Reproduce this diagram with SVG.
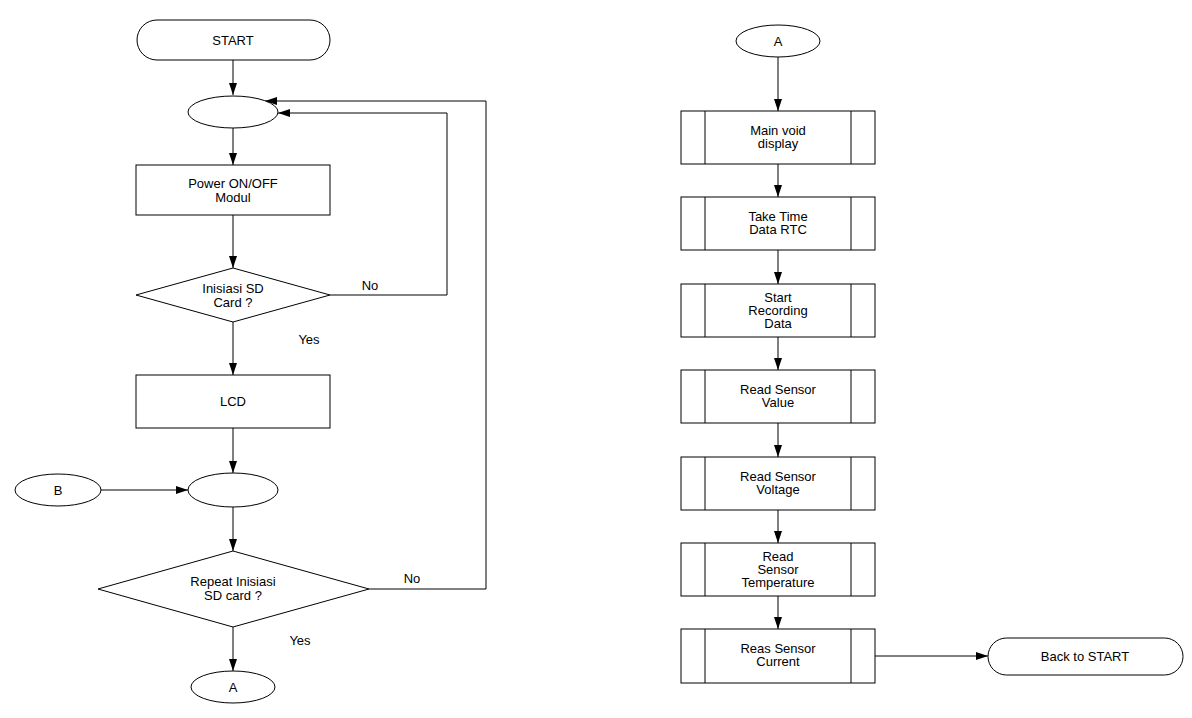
<svg xmlns="http://www.w3.org/2000/svg" width="1192" height="718" viewBox="0 0 1192 718">
<style>
.s{fill:#fff;stroke:#000;stroke-width:1}
.l{fill:none;stroke:#000;stroke-width:1}
text{font-family:"Liberation Sans",Arial,sans-serif;font-size:13px;fill:#000;text-anchor:middle}
</style>
<defs><marker id="a" markerWidth="12" markerHeight="8" refX="12" refY="4" orient="auto" markerUnits="userSpaceOnUse"><path d="M0,0L12,4L0,8z" fill="#000"/></marker></defs>
<rect width="1192" height="718" fill="#fff"/>
<g id="connectors">
<path class="l" d="M233,60V95" marker-end="url(#a)"/>
<path class="l" d="M233,128V165" marker-end="url(#a)"/>
<path class="l" d="M233,215V268" marker-end="url(#a)"/>
<path class="l" d="M330,295H447V113H278" marker-end="url(#a)"/>
<path class="l" d="M233,322V375" marker-end="url(#a)"/>
<path class="l" d="M233,428V473" marker-end="url(#a)"/>
<path class="l" d="M101,490H188" marker-end="url(#a)"/>
<path class="l" d="M233,507V551" marker-end="url(#a)"/>
<path class="l" d="M369,589H486V101H265" marker-end="url(#a)"/>
<path class="l" d="M233,627V671" marker-end="url(#a)"/>
<path class="l" d="M778,57V111" marker-end="url(#a)"/>
<path class="l" d="M778,164V197" marker-end="url(#a)"/>
<path class="l" d="M778,250V284" marker-end="url(#a)"/>
<path class="l" d="M778,337V370" marker-end="url(#a)"/>
<path class="l" d="M778,423V457" marker-end="url(#a)"/>
<path class="l" d="M778,510V543" marker-end="url(#a)"/>
<path class="l" d="M778,596V629" marker-end="url(#a)"/>
<path class="l" d="M875,656H988" marker-end="url(#a)"/>
<text x="370" y="290">No</text><text x="309" y="344">Yes</text>
<text x="412" y="583">No</text><text x="300" y="645">Yes</text>
</g>
<g id="start"><rect class="s" x="137" y="20" width="193" height="40" rx="20"/><text x="233" y="45">START</text></g>
<g id="j1"><ellipse class="s" cx="233" cy="112" rx="45" ry="16"/></g>
<g id="power"><rect class="s" x="136" y="165" width="194" height="50"/><text x="233" y="188">Power ON/OFF</text><text x="233" y="202">Modul</text></g>
<g id="d1"><path class="s" d="M233,268L330,295L233,322L136,295z"/><text x="233" y="293">Inisiasi SD</text><text x="233" y="307">Card ?</text></g>
<g id="lcd"><rect class="s" x="136" y="375" width="194" height="53"/><text x="233" y="406">LCD</text></g>
<g id="b"><ellipse class="s" cx="58" cy="490" rx="43" ry="16"/><text x="58" y="495">B</text></g>
<g id="j2"><ellipse class="s" cx="233" cy="490" rx="45" ry="17"/></g>
<g id="d2"><path class="s" d="M233,551L369,589L233,627L98,589z"/><text x="233" y="586">Repeat Inisiasi</text><text x="233" y="600">SD card ?</text></g>
<g id="a1"><ellipse class="s" cx="233" cy="687" rx="42" ry="16"/><text x="233" y="692">A</text></g>
<g id="a2"><ellipse class="s" cx="778" cy="41" rx="42" ry="16"/><text x="778" y="46">A</text></g>
<g id="p1"><rect class="s" x="681" y="111" width="194" height="53"/><path class="l" d="M705,111V164M851,111V164"/><text x="778" y="135">Main void</text><text x="778" y="148">display</text></g>
<g id="p2"><rect class="s" x="681" y="197" width="194" height="53"/><path class="l" d="M705,197V250M851,197V250"/><text x="778" y="221">Take Time</text><text x="778" y="234">Data RTC</text></g>
<g id="p3"><rect class="s" x="681" y="284" width="194" height="53"/><path class="l" d="M705,284V337M851,284V337"/><text x="778" y="302">Start</text><text x="778" y="315">Recording</text><text x="778" y="328">Data</text></g>
<g id="p4"><rect class="s" x="681" y="370" width="194" height="53"/><path class="l" d="M705,370V423M851,370V423"/><text x="778" y="394">Read Sensor</text><text x="778" y="407">Value</text></g>
<g id="p5"><rect class="s" x="681" y="457" width="194" height="53"/><path class="l" d="M705,457V510M851,457V510"/><text x="778" y="481">Read Sensor</text><text x="778" y="494">Voltage</text></g>
<g id="p6"><rect class="s" x="681" y="543" width="194" height="53"/><path class="l" d="M705,543V596M851,543V596"/><text x="778" y="561">Read</text><text x="778" y="574">Sensor</text><text x="778" y="587">Temperature</text></g>
<g id="p7"><rect class="s" x="681" y="629" width="194" height="54"/><path class="l" d="M705,629V683M851,629V683"/><text x="778" y="653">Reas Sensor</text><text x="778" y="666">Current</text></g>
<g id="back"><rect class="s" x="988" y="638" width="195" height="37" rx="18.5"/><text x="1085" y="661">Back to START</text></g>
</svg>
